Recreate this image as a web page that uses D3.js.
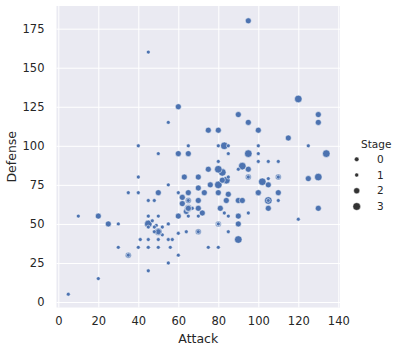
<!DOCTYPE html>
<html>
<head>
<meta charset="utf-8">
<script src="https://cdn.jsdelivr.net/npm/d3@7"></script>
<style>
  html, body { margin: 0; padding: 0; background: #ffffff; }
  svg text { font-family: "DejaVu Sans", sans-serif; fill: #262626; }
</style>
</head>
<body>
<svg id="chart" width="418" height="352"></svg>
<script>
// Pokemon (Gen 1): Attack, Defense, Stage
const attack = [49,62,82,52,64,84,48,63,83,30,
  20,45,35,25,90,45,60,80,56,81,
  60,90,60,85,55,90,75,100,47,62,
  92,57,72,102,45,70,41,76,45,70,
  45,80,50,65,80,70,95,55,65,55,
  80,45,70,52,82,80,105,70,110,50,
  65,95,20,35,50,80,100,130,75,90,
  105,40,70,80,95,120,85,100,65,75,
  35,60,65,85,110,45,70,80,105,65,
  95,35,50,65,45,48,73,105,130,30,
  50,40,95,50,80,120,105,55,65,90,
  85,130,5,55,95,40,65,67,92,45,
  75,45,110,50,83,95,125,100,10,125,
  85,48,55,65,65,130,60,40,60,80,
  115,105,110,85,90,100,64,84,134,110,100];
const defense = [49,63,83,43,58,78,65,80,100,35,
  55,50,30,50,40,40,55,75,35,60,
  30,65,44,69,40,55,85,110,52,67,
  87,40,57,77,48,73,40,75,20,45,
  35,70,55,70,85,55,80,50,60,25,
  50,35,60,48,78,35,60,45,80,40,
  65,95,15,30,45,50,70,80,35,50,
  65,35,65,100,115,130,55,70,65,110,
  70,95,55,45,70,55,80,50,75,100,
  180,30,45,60,160,45,70,90,115,50,
  70,80,85,95,110,53,79,75,95,120,
  95,120,5,115,80,70,95,60,65,55,
  85,65,80,35,57,57,100,95,55,79,
  80,48,50,60,60,60,70,100,125,90,
  105,65,65,100,85,90,45,65,95,90,100];
const stage = [1,2,3,1,2,3,1,2,3,1,
  2,3,1,2,3,1,2,3,1,2,
  1,2,1,2,1,2,1,2,1,2,
  3,1,2,3,1,2,1,2,1,2,
  1,2,1,2,3,1,2,1,2,1,
  2,1,2,1,2,1,2,1,2,1,
  2,3,1,2,3,1,2,3,1,2,
  3,1,2,1,2,3,1,2,1,2,
  1,2,1,1,2,1,2,1,2,1,
  2,1,2,3,1,1,2,1,2,1,
  2,1,2,1,2,1,1,1,1,2,
  1,2,1,1,1,1,2,1,2,1,
  2,1,1,1,1,1,1,1,1,2,
  1,1,1,2,2,2,1,1,2,1,
  2,1,1,1,1,1,1,2,3,1,1];
const xTicks = [0,20,40,60,80,100,120,140];
const yTicks = [0,25,50,75,100,125,150,175];
const legendLevels = [0,1,2,3];

const points = attack.map((a,i) => ({x:a, y:defense[i], s:stage[i]}));

const svg = d3.select("#chart");
const plot = {left:56.5, right:340, top:6, bottom:307.5};

const x = d3.scaleLinear().domain([-0.9, 140.85]).range([plot.left, plot.right]);
const y = d3.scaleLinear().domain([-3.5, 189.5]).range([plot.bottom, plot.top]);
const r = d3.scaleOrdinal().domain([0,1,2,3]).range([2.25,1.95,3.0,3.8]);

// background
svg.append("rect")
  .attr("x", plot.left).attr("y", plot.top)
  .attr("width", plot.right-plot.left).attr("height", plot.bottom-plot.top)
  .attr("fill", "#EAEAF2");

// grid
const gx = svg.append("g").attr("transform", `translate(0,${plot.bottom})`)
  .call(d3.axisBottom(x).tickValues(xTicks).tickSize(-(plot.bottom-plot.top)).tickPadding(9));
gx.select(".domain").remove();
gx.selectAll(".tick line").attr("stroke", "#ffffff").attr("stroke-width", 1);
gx.selectAll(".tick text").attr("font-size", 11.5).attr("fill", "#262626");

const gy = svg.append("g").attr("transform", `translate(${plot.left},0)`)
  .call(d3.axisLeft(y).tickValues(yTicks).tickSize(-(plot.right-plot.left)).tickPadding(12));
gy.select(".domain").remove();
gy.selectAll(".tick line").attr("stroke", "#ffffff").attr("stroke-width", 1);
gy.selectAll(".tick text").attr("font-size", 11.5).attr("fill", "#262626");

// points
svg.append("g").selectAll("circle").data(points).join("circle")
  .attr("cx", d => x(d.x)).attr("cy", d => y(d.y))
  .attr("r", d => r(d.s))
  .attr("fill", "#4C72B0")
  .attr("stroke", "#ffffff").attr("stroke-width", 0.5);

// axis labels
svg.append("text").attr("x", (plot.left+plot.right)/2).attr("y", 343)
  .attr("text-anchor", "middle").attr("font-size", 12.5).text("Attack");
svg.append("text")
  .attr("transform", `translate(16,${(plot.top+plot.bottom)/2}) rotate(-90)`)
  .attr("text-anchor", "middle").attr("font-size", 12.5).text("Defense");

// legend
const lg = svg.append("g");
lg.append("text").attr("x", 361).attr("y", 148).attr("font-size", 10.5).text("Stage");
const rowY = d3.scaleLinear().domain([0,3]).range([159.3, 206.5]);
legendLevels.forEach(l => {
  lg.append("circle").attr("cx", 356.7).attr("cy", rowY(l)).attr("r", r(l))
    .attr("fill", "#333333").attr("stroke", "#ffffff").attr("stroke-width", 0.4);
  lg.append("text").attr("x", 377).attr("y", rowY(l)).attr("dy", "0.35em")
    .attr("font-size", 10.5).text(l);
});
</script>
</body>
</html>
